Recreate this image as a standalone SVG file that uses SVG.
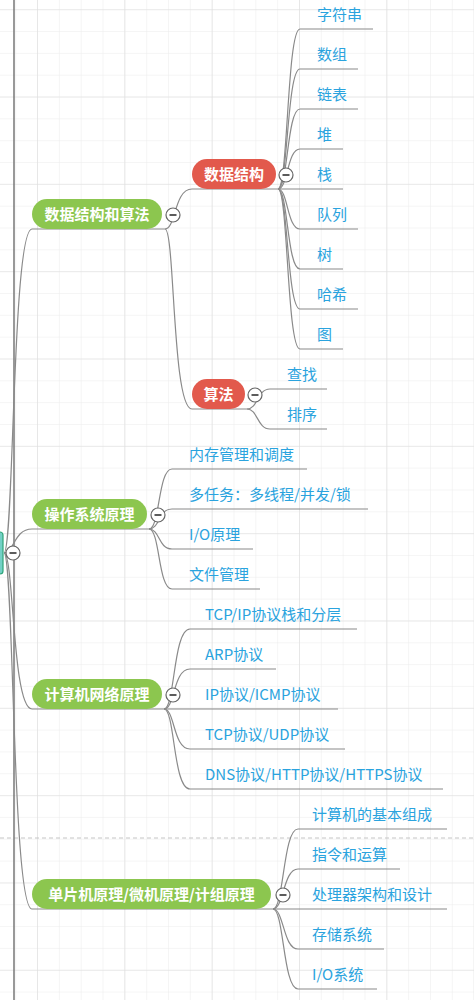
<svg xmlns="http://www.w3.org/2000/svg" width="474" height="1000" viewBox="0 0 474 1000">
<defs>
<pattern id="gmin" x="15.2" y="9.2" width="21.83" height="21.83" patternUnits="userSpaceOnUse">
<path d="M0 0H21.83M0 0V21.83" fill="none" stroke="#ececec" stroke-width="1"/>
</pattern>
<pattern id="gmaj" x="37" y="9.2" width="87.33" height="87.33" patternUnits="userSpaceOnUse">
<path d="M0 0H87.33M0 0V87.33" fill="none" stroke="#dedede" stroke-width="1.2"/>
</pattern>
<style>
.c{fill:none;stroke:#8a8a8a;stroke-width:1.2}
.gp{fill:#8cc64f}
.rp{fill:#e2594c}
.pt{font-family:"Noto Sans CJK SC",sans-serif;font-size:15px;font-weight:bold;fill:#fff;text-anchor:middle}
.lt{font-family:"Noto Sans CJK SC",sans-serif;font-size:15px;fill:#2aa3de}
.tg circle{fill:#fff;stroke:#666;stroke-width:1.2}
.tg path{stroke:#333;stroke-width:1.6}
</style>
</defs>
<rect width="474" height="1000" fill="#fff"/>
<rect width="474" height="1000" fill="url(#gmin)"/>
<rect width="474" height="1000" fill="url(#gmaj)"/>
<line x1="0" y1="838" x2="474" y2="838" stroke="#c4c4c4" stroke-width="1" stroke-dasharray="4 3"/>

<g id="connectors">
<line x1="14" y1="0" x2="14" y2="1000" stroke="#777" stroke-width="1.5"/>
<path class="c" d="M4 553C14 553 12 229 32 229H165"/>
<path class="c" d="M4 553C14 553 14 529 32 529H149"/>
<path class="c" d="M4 553C14 553 12 709 32 709H164"/>
<path class="c" d="M4 553C14 553 12 909 32 909H273"/>
<path class="c" d="M165 229C176 229 174 189 192 189H278"/>
<path class="c" d="M165 229C175 229 172 409 192 409H247"/>
<path class="c" d="M278 189C288 189 287 29 300 29H373"/>
<path class="c" d="M278 189C288 189 287 69 300 69H358"/>
<path class="c" d="M278 189C288 189 287 109 300 109H358"/>
<path class="c" d="M278 189C288 189 287 149 300 149H343"/>
<path class="c" d="M278 189H343"/>
<path class="c" d="M278 189C288 189 287 229 300 229H358"/>
<path class="c" d="M278 189C288 189 287 269 300 269H343"/>
<path class="c" d="M278 189C288 189 287 309 300 309H358"/>
<path class="c" d="M278 189C288 189 287 349 300 349H343"/>
<path class="c" d="M247 409C258 409 257 389 270 389H327"/>
<path class="c" d="M247 409C258 409 257 429 270 429H327"/>
<path class="c" d="M149 529C160 529 158 469 172 469H307"/>
<path class="c" d="M149 529C160 529 158 509 172 509H368"/>
<path class="c" d="M149 529C160 529 158 549 172 549H253"/>
<path class="c" d="M149 529C160 529 158 589 172 589H260"/>
<path class="c" d="M164 709C175 709 173 629 190 629H357"/>
<path class="c" d="M164 709C175 709 173 669 190 669H276"/>
<path class="c" d="M164 709H338"/>
<path class="c" d="M164 709C175 709 173 749 190 749H345"/>
<path class="c" d="M164 709C175 709 173 789 190 789H443"/>
<path class="c" d="M273 909C284 909 283 829 298 829H447"/>
<path class="c" d="M273 909C284 909 283 869 298 869H400"/>
<path class="c" d="M273 909H447"/>
<path class="c" d="M273 909C284 909 283 949 298 949H384"/>
<path class="c" d="M273 909C284 909 283 989 298 989H377"/>
</g>

<g id="root">
<rect x="-12" y="532" width="15" height="42" rx="3" fill="#74d0c6" stroke="#2fa57a" stroke-width="1.2"/>
<g class="tg"><circle cx="13" cy="553" r="7"/><path d="M9.5 553H16.5"/></g>
</g>

<g id="n-dsa">
<rect class="gp" x="32" y="199" width="130" height="30" rx="15"/>
<text class="pt" x="97" y="220">数据结构和算法</text>
<g class="tg"><circle cx="173" cy="215" r="7"/><path d="M169.5 215H176.5"/></g>
</g>
<g id="n-ds">
<rect class="rp" x="192" y="159" width="84" height="30" rx="15"/>
<text class="pt" x="234" y="180">数据结构</text>
<g class="tg"><circle cx="286" cy="175" r="7"/><path d="M282.5 175H289.5"/></g>
</g>
<g id="n-algo">
<rect class="rp" x="192" y="379" width="53" height="30" rx="15"/>
<text class="pt" x="218.5" y="400">算法</text>
<g class="tg"><circle cx="255" cy="395" r="7"/><path d="M251.5 395H258.5"/></g>
</g>
<g id="n-os">
<rect class="gp" x="32" y="499" width="115" height="30" rx="15"/>
<text class="pt" x="89.5" y="520">操作系统原理</text>
<g class="tg"><circle cx="158" cy="515" r="7"/><path d="M154.5 515H161.5"/></g>
</g>
<g id="n-net">
<rect class="gp" x="32" y="679" width="130" height="30" rx="15"/>
<text class="pt" x="97" y="700">计算机网络原理</text>
<g class="tg"><circle cx="173" cy="695" r="7"/><path d="M169.5 695H176.5"/></g>
</g>
<g id="n-mcu">
<rect class="gp" x="32" y="879" width="239" height="30" rx="15"/>
<text class="pt" x="151.5" y="900">单片机原理/微机原理/计组原理</text>
<g class="tg"><circle cx="283" cy="895" r="7"/><path d="M279.5 895H286.5"/></g>
</g>

<g id="leaves-ds">
<g id="l-str"><text class="lt" x="317" y="20">字符串</text></g>
<g id="l-arr"><text class="lt" x="317" y="60">数组</text></g>
<g id="l-list"><text class="lt" x="317" y="100">链表</text></g>
<g id="l-heap"><text class="lt" x="317" y="140">堆</text></g>
<g id="l-stack"><text class="lt" x="317" y="180">栈</text></g>
<g id="l-queue"><text class="lt" x="317" y="220">队列</text></g>
<g id="l-tree"><text class="lt" x="317" y="260">树</text></g>
<g id="l-hash"><text class="lt" x="317" y="300">哈希</text></g>
<g id="l-graph"><text class="lt" x="317" y="340">图</text></g>
</g>
<g id="leaves-algo">
<g id="l-search"><text class="lt" x="287" y="380">查找</text></g>
<g id="l-sort"><text class="lt" x="287" y="420">排序</text></g>
</g>
<g id="leaves-os">
<g id="l-mem"><text class="lt" x="189" y="460">内存管理和调度</text></g>
<g id="l-mt"><text class="lt" x="189" y="500">多任务：多线程/并发/锁</text></g>
<g id="l-io"><text class="lt" x="189" y="540">I/O原理</text></g>
<g id="l-fs"><text class="lt" x="189" y="580">文件管理</text></g>
</g>
<g id="leaves-net">
<g id="l-tcpip"><text class="lt" x="205" y="620">TCP/IP协议栈和分层</text></g>
<g id="l-arp"><text class="lt" x="205" y="660">ARP协议</text></g>
<g id="l-ip"><text class="lt" x="205" y="700">IP协议/ICMP协议</text></g>
<g id="l-tcp"><text class="lt" x="205" y="740">TCP协议/UDP协议</text></g>
<g id="l-dns"><text class="lt" x="205" y="780">DNS协议/HTTP协议/HTTPS协议</text></g>
</g>
<g id="leaves-mcu">
<g id="l-basic"><text class="lt" x="312" y="820">计算机的基本组成</text></g>
<g id="l-inst"><text class="lt" x="312" y="860">指令和运算</text></g>
<g id="l-cpu"><text class="lt" x="312" y="900">处理器架构和设计</text></g>
<g id="l-store"><text class="lt" x="312" y="940">存储系统</text></g>
<g id="l-iosys"><text class="lt" x="312" y="980">I/O系统</text></g>
</g>
</svg>
